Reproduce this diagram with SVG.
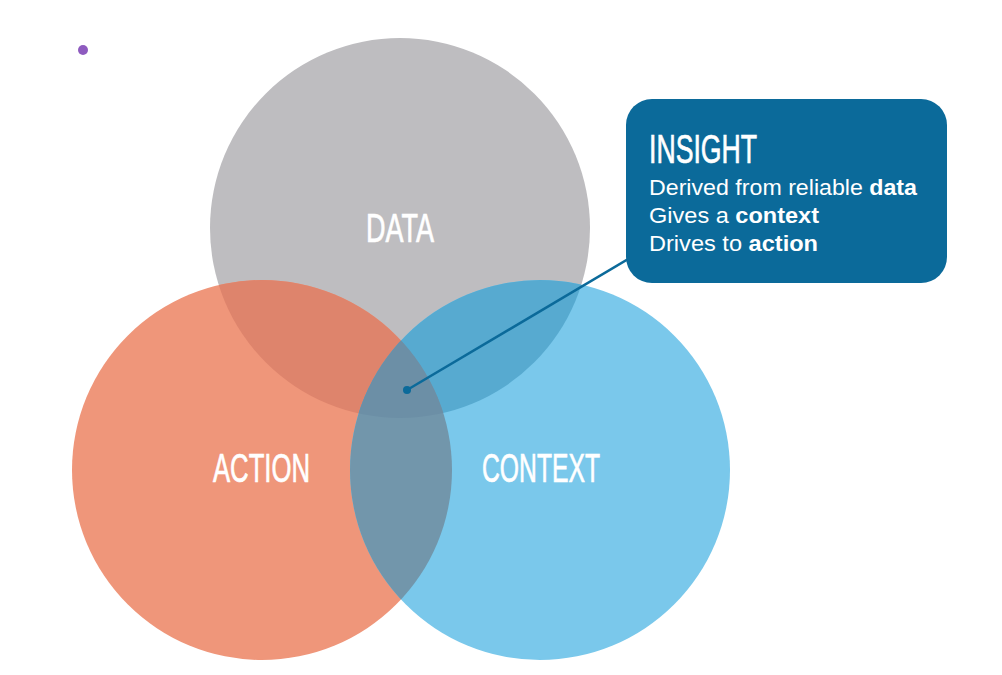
<svg xmlns="http://www.w3.org/2000/svg" width="1002" height="675" viewBox="0 0 1002 675">
<defs>
<style>
.lbl{font-family:"Liberation Sans Narrow","Liberation Sans",Arial,sans-serif;fill:#ffffff;font-size:40px;stroke:#ffffff;stroke-width:0.7px;}
.body{font-family:"Liberation Sans",Arial,sans-serif;fill:#ffffff;font-size:22px;}
.b{font-weight:bold;}
</style>
<clipPath id="cData"><circle cx="400" cy="228" r="190"/></clipPath>
<clipPath id="cAction"><circle cx="262" cy="470" r="190"/></clipPath>
<clipPath id="cContext"><circle cx="540" cy="470" r="190"/></clipPath>
</defs>
<rect width="1002" height="675" fill="#ffffff"/>
<circle id="dot" cx="83" cy="50" r="5" fill="#8e5bbf"/>
<g id="data"><circle cx="400" cy="228" r="190" fill="#bebdc0"/></g>
<g id="action"><circle cx="262" cy="470" r="190" fill="#ef967a"/></g>
<g id="context"><circle cx="540" cy="470" r="190" fill="#7ac8eb"/></g>
<g id="overlaps">
<circle cx="262" cy="470" r="190" fill="#de846c" clip-path="url(#cData)"/>
<circle cx="540" cy="470" r="190" fill="#57aad0" clip-path="url(#cData)"/>
<circle cx="540" cy="470" r="190" fill="#7296ab" clip-path="url(#cAction)"/>
<g clip-path="url(#cData)"><circle cx="540" cy="470" r="190" fill="#6c8fa6" clip-path="url(#cAction)"/></g>
</g>
<g id="labels">
<text class="lbl" x="366" y="242" textLength="68" lengthAdjust="spacingAndGlyphs">DATA</text>
<text class="lbl" x="213" y="482" textLength="97" lengthAdjust="spacingAndGlyphs">ACTION</text>
<text class="lbl" x="482" y="482" textLength="118" lengthAdjust="spacingAndGlyphs">CONTEXT</text>
</g>
<g id="connectors">
<line x1="407" y1="390" x2="640" y2="252" stroke="#0b6a9a" stroke-width="2.5"/>
<circle cx="407" cy="390" r="4" fill="#0b6a9a"/>
</g>
<g id="insight">
<rect x="626" y="99" width="321" height="184" rx="26" ry="26" fill="#0b6a9a"/>
<text class="lbl" x="649" y="163" textLength="108" lengthAdjust="spacingAndGlyphs">INSIGHT</text>
<text class="body" x="649" y="195" textLength="268" lengthAdjust="spacingAndGlyphs">Derived from reliable <tspan class="b">data</tspan></text>
<text class="body" x="649" y="223" textLength="170" lengthAdjust="spacingAndGlyphs">Gives a <tspan class="b">context</tspan></text>
<text class="body" x="649" y="251" textLength="169" lengthAdjust="spacingAndGlyphs">Drives to <tspan class="b">action</tspan></text>
</g>
</svg>
